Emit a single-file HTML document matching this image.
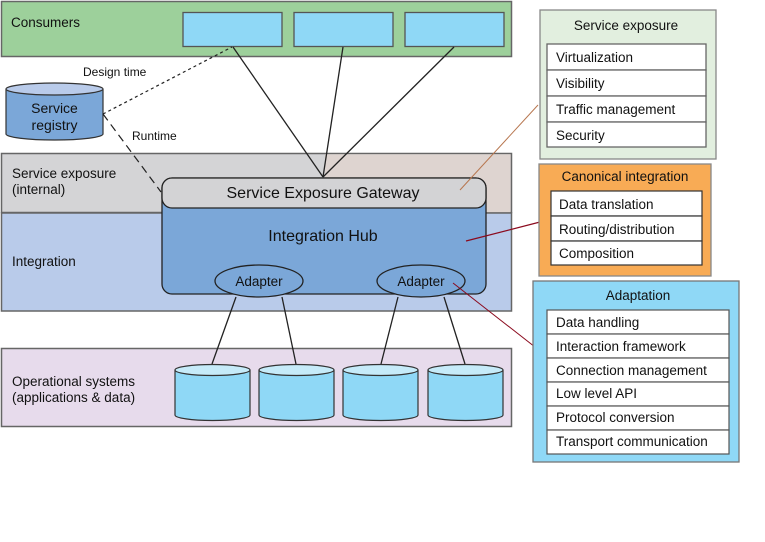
<!DOCTYPE html>
<html><head><meta charset="utf-8"><style>
html,body{margin:0;padding:0;background:#fff;}
svg{display:block;font-family:"Liberation Sans",sans-serif;}
</style></head><body>
<svg width="765" height="542" viewBox="0 0 765 542" xmlns="http://www.w3.org/2000/svg">
<rect x="1.5" y="1.5" width="510" height="55" fill="#9dd09b" stroke="#666" stroke-width="1.5"/>
<text x="11" y="27" font-size="13.5" fill="#111">Consumers</text>
<rect x="183" y="12.5" width="99" height="34" fill="#8fd8f6" stroke="#555" stroke-width="1.3"/>
<rect x="294" y="12.5" width="99" height="34" fill="#8fd8f6" stroke="#555" stroke-width="1.3"/>
<rect x="405" y="12.5" width="99" height="34" fill="#8fd8f6" stroke="#555" stroke-width="1.3"/>

<rect x="1.5" y="153.5" width="510" height="59" fill="#d4d4d6" stroke="#666" stroke-width="1.5"/>
<rect x="325" y="154.3" width="185.5" height="58" fill="#ded4d0"/>
<text x="12" y="178" font-size="13.5" fill="#111">Service exposure</text>
<text x="12" y="194" font-size="13.5" fill="#111">(internal)</text>
<rect x="1.5" y="213" width="510" height="98" fill="#b9cbea" stroke="#666" stroke-width="1.5"/>
<text x="12" y="266" font-size="13.5" fill="#111">Integration</text>
<rect x="1.5" y="348.5" width="510" height="78" fill="#e7dbec" stroke="#666" stroke-width="1.5"/>
<text x="12" y="386" font-size="13.5" fill="#111">Operational systems</text>
<text x="12" y="402" font-size="13.5" fill="#111">(applications &amp; data)</text>

<rect x="162" y="178" width="324" height="116" rx="10" fill="#7ba7d8" stroke="#222" stroke-width="1.3"/>
<rect x="162" y="178" width="324" height="30" rx="10" fill="#d3d3d5" stroke="#222" stroke-width="1.3"/>
<text x="323" y="198" font-size="16" text-anchor="middle" fill="#111">Service Exposure Gateway</text>
<text x="323" y="241" font-size="16" text-anchor="middle" fill="#111">Integration Hub</text>
<ellipse cx="259" cy="281" rx="44" ry="16" fill="#7ba7d8" stroke="#222" stroke-width="1.3"/>
<text x="259" y="286" font-size="13.5" text-anchor="middle" fill="#111">Adapter</text>
<ellipse cx="421" cy="281" rx="44" ry="16" fill="#7ba7d8" stroke="#222" stroke-width="1.3"/>
<text x="421" y="286" font-size="13.5" text-anchor="middle" fill="#111">Adapter</text>

<g stroke="#222" stroke-width="1.3">
<line x1="233" y1="47" x2="323" y2="177"/>
<line x1="343" y1="47" x2="323" y2="177"/>
<line x1="454" y1="47" x2="323" y2="177"/>
<line x1="236" y1="297" x2="212" y2="364"/>
<line x1="282" y1="297" x2="296" y2="364"/>
<line x1="398" y1="297" x2="381" y2="364"/>
<line x1="444" y1="297" x2="465" y2="364"/>
</g>

<path d="M6,89 L6,134 A48.5,6 0 0 0 103,134 L103,89" fill="#7ba7d8" stroke="#333" stroke-width="1.2"/>
<ellipse cx="54.5" cy="89" rx="48.5" ry="6" fill="#b9cbea" stroke="#333" stroke-width="1.2"/>
<text x="54.5" y="113" font-size="14" text-anchor="middle" fill="#111">Service</text>
<text x="54.5" y="130" font-size="14" text-anchor="middle" fill="#111">registry</text>
<text x="83" y="76" font-size="12" fill="#111">Design time</text>
<text x="132" y="140" font-size="12" fill="#111">Runtime</text>
<line x1="103" y1="114" x2="232" y2="47" stroke="#222" stroke-width="1.2" stroke-dasharray="3,3"/>
<line x1="103" y1="114" x2="161" y2="192" stroke="#222" stroke-width="1.2" stroke-dasharray="8,5"/>

<g stroke="#333" stroke-width="1.2">
<path d="M175,370 L175,415 A37.5,5.5 0 0 0 250,415 L250,370" fill="#8fd8f6"/>
<ellipse cx="212.5" cy="370" rx="37.5" ry="5.5" fill="#c6ebf9"/>
<path d="M259,370 L259,415 A37.5,5.5 0 0 0 334,415 L334,370" fill="#8fd8f6"/>
<ellipse cx="296.5" cy="370" rx="37.5" ry="5.5" fill="#c6ebf9"/>
<path d="M343,370 L343,415 A37.5,5.5 0 0 0 418,415 L418,370" fill="#8fd8f6"/>
<ellipse cx="380.5" cy="370" rx="37.5" ry="5.5" fill="#c6ebf9"/>
<path d="M428,370 L428,415 A37.5,5.5 0 0 0 503,415 L503,370" fill="#8fd8f6"/>
<ellipse cx="465.5" cy="370" rx="37.5" ry="5.5" fill="#c6ebf9"/>
</g>

<line x1="460" y1="190" x2="538" y2="105" stroke="#b7764f" stroke-width="1"/>
<line x1="466" y1="241" x2="540" y2="222" stroke="#8b0a1e" stroke-width="1.2"/>
<line x1="453" y1="283" x2="535" y2="347" stroke="#8b0a1e" stroke-width="1"/>

<rect x="540" y="10" width="176" height="149" fill="#e2efdf" stroke="#888" stroke-width="1.3"/>
<text x="626" y="30" font-size="13.5" text-anchor="middle" fill="#111">Service exposure</text>
<g fill="#fff" stroke="#666" stroke-width="1.3">
<rect x="547" y="44" width="159" height="26"/><rect x="547" y="70" width="159" height="26"/>
<rect x="547" y="96" width="159" height="26"/><rect x="547" y="122" width="159" height="25"/>
</g>
<g font-size="13.5" fill="#111">
<text x="556" y="62">Virtualization</text><text x="556" y="88">Visibility</text>
<text x="556" y="114">Traffic management</text><text x="556" y="140">Security</text>
</g>

<rect x="539" y="164" width="172" height="112" fill="#f8ab55" stroke="#888" stroke-width="1.3"/>
<text x="625" y="181" font-size="13.5" text-anchor="middle" fill="#111">Canonical integration</text>
<g fill="#fff" stroke="#333" stroke-width="1.2">
<rect x="551" y="191" width="151" height="25"/><rect x="551" y="216" width="151" height="25"/><rect x="551" y="241" width="151" height="24"/>
</g>
<g font-size="13.5" fill="#111">
<text x="559" y="209">Data translation</text><text x="559" y="234">Routing/distribution</text><text x="559" y="258">Composition</text>
</g>

<rect x="533" y="281" width="206" height="181" fill="#8fd8f6" stroke="#777" stroke-width="1.3"/>
<text x="638" y="300" font-size="13.5" text-anchor="middle" fill="#111">Adaptation</text>
<g fill="#fff" stroke="#555" stroke-width="1.2">
<rect x="547" y="310" width="182" height="24"/><rect x="547" y="334" width="182" height="24"/>
<rect x="547" y="358" width="182" height="24"/><rect x="547" y="382" width="182" height="24"/>
<rect x="547" y="406" width="182" height="24"/><rect x="547" y="430" width="182" height="24"/>
</g>
<g font-size="13.5" fill="#111">
<text x="556" y="327">Data handling</text><text x="556" y="351">Interaction framework</text>
<text x="556" y="375">Connection management</text><text x="556" y="398">Low level API</text>
<text x="556" y="422">Protocol conversion</text><text x="556" y="446">Transport communication</text>
</g>
</svg>
</body></html>
